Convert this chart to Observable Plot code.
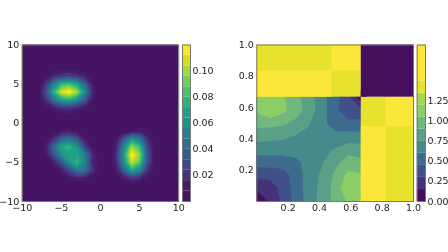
<!DOCTYPE html>
<html><head><meta charset="utf-8">
<script src="https://cdn.jsdelivr.net/npm/d3@7"></script>
<script src="https://cdn.jsdelivr.net/npm/@observablehq/plot@0.6"></script>
<style>
html,body{margin:0;background:#fff}
#c{position:relative;width:448px;height:252px;overflow:hidden;filter:blur(.35px)}
#c svg{position:absolute;left:0;top:0;background:transparent!important}
</style></head><body><div id="c"></div>
<script>
// Left panel: density read on a unit grid, rows y=10..-10, columns x=-10..10
const gridCols = 21, gridRows = 21;
const z = Array(21).fill(0);
const densityRows = [
 z,z,z,
 /*y=7*/ [0,0,0,0,.002,.003,.004,.003,.002,0,0,0,0,0,0,0,0,0,0,0,0],
 /*y=6*/ [0,0,0,.007,.017,.024,.026,.022,.013,.004,0,0,0,0,0,0,0,0,0,0,0],
 /*y=5*/ [0,0,.001,.021,.053,.077,.084,.07,.041,.011,0,0,0,0,0,0,0,0,0,0,0],
 /*y=4*/ [0,0,.002,.03,.076,.11,.12,.10,.058,.016,0,0,0,0,0,0,0,0,0,0,0],
 /*y=3*/ [0,0,.001,.019,.047,.068,.074,.062,.036,.01,0,0,0,0,0,0,0,0,0,0,0],
 /*y=2*/ [0,0,0,.005,.014,.02,.022,.018,.01,.003,0,0,0,0,0,0,0,0,0,0,0],
 /*y=1*/ [0,0,0,0,.001,.002,.003,.002,.001,0,0,0,0,0,0,0,0,0,0,0,0],
 /*y=0*/ z,
 /*y=-1*/[0,0,0,0,.002,.009,.012,.008,.001,0,0,0,0,.002,.007,.013,.010,.004,0,0,0],
 /*y=-2*/[0,0,0,.004,.02,.04,.046,.034,.01,.001,0,0,.010,.035,.064,.051,.018,.002,0,0,0],
 /*y=-3*/[0,0,0,.012,.042,.07,.077,.062,.028,.006,0,0,.015,.055,.10,.08,.028,.003,0,0,0],
 /*y=-4*/[0,0,0,.008,.033,.06,.07,.07,.052,.017,.001,0,.018,.066,.12,.096,.034,.004,0,0,0],
 /*y=-5*/[0,0,0,.002,.012,.033,.06,.077,.055,.014,.001,0,.016,.059,.107,.086,.03,.003,0,0,0],
 /*y=-6*/[0,0,0,0,.003,.012,.03,.05,.046,.02,.003,0,.011,.04,.072,.058,.02,.002,0,0,0],
 /*y=-7*/[0,0,0,0,0,.002,.008,.015,.012,.004,0,0,.003,.012,.022,.018,.006,0,0,0,0],
 z,z,z
];
const leftLevels = [0,.008,.016,.024,.032,.04,.048,.056,.064,.072,.08,.088,.096,.104,.112,.12];
const leftTicks = [-10,-5,0,5,10];
const leftBarTicks = [.02,.04,.06,.08,.1];

// Right panel blocks
const blockLowerLeft = [ // columns x=0..8/12, rows y=8/12..0
 [1.10,1.17,1.07,.94,.82,.65,.51,.33,.05],
 [1.07,1.205,1.09,.97,.84,.66,.50,.31,.33],
 [.95,.95,.93,.86,.76,.64,.53,.50,.51],
 [.81,.80,.78,.74,.72,.66,.64,.66,.65],
 [.67,.67,.67,.67,.68,.72,.76,.84,.82],
 [.51,.52,.52,.56,.67,.74,.86,.97,.94],
 [.33,.35,.38,.52,.67,.78,.93,1.09,1.07],
 [.18,.22,.35,.52,.67,.80,.95,1.205,1.17],
 [0,.18,.33,.51,.67,.81,.95,1.07,1.10]
];
const xa = 2/3;
const yellowRegions = [
 {x1:0,x2:xa,y1:xa,y2:1,v:1.42},
 {x1:xa,x2:1,y1:0,y2:xa,v:1.42},
 {x1:0,x2:.48,y1:xa,y2:.835,v:1.58},
 {x1:.48,x2:xa,y1:.835,y2:1,v:1.58},
 {x1:xa,x2:.825,y1:0,y2:.48,v:1.58},
 {x1:.825,x2:1,y1:.48,y2:xa,v:1.58},
 {x1:xa,x2:1,y1:xa,y2:1,v:.05}
];
const rightLevels = [0,.15,.3,.45,.6,.75,.9,1.05,1.2,1.35,1.5,1.95];
const rightColors = ["#450f5e","#47307c","#42508a","#3d6b8e","#468a8c","#5a9f86","#70b87c","#8ccd68","#a5d84f","#e7e32d","#fbe63a"];
const rightTicks = [.2,.4,.6,.8,1];
const rightBarTicks = [0,.25,.5,.75,1,1.25];

const leftColors = leftLevels.slice(0,-1).map((_, i) => d3.interpolateViridis(i/14));
leftColors[0] = "#451564";
const font = {fontFamily:"'DejaVu Sans'",fontSize:"9.5px",color:"#222",background:"transparent"};
const W = 448, H = 252, mTop = 44.5, mBottom = 51;
const base = (l, r) => ({width:W,height:H,marginTop:mTop,marginBottom:mBottom,marginLeft:l,marginRight:W-r,style:font});
const frame = () => Plot.frame({stroke:"#777",strokeWidth:1});
const axes = (ticks, fmt) => [
  Plot.axisX({ticks,tickFormat:fmt,tickSize:0,tickPadding:3,anchor:"bottom"}),
  Plot.axisY({ticks,tickFormat:fmt,tickSize:0,tickPadding:3,anchor:"left"})
];
const flat = rows => rows.flat();

const charts = [
 Plot.plot({...base(21.8,178.2),
  x:{domain:[-10,10]},y:{domain:[-10,10]},
  color:{type:"threshold",domain:leftLevels.slice(1,-1),range:leftColors},
  marks:[
   Plot.contour(flat(densityRows),{width:gridCols,height:gridRows,x1:-10.5,x2:10.5,y1:10.5,y2:-10.5,
     fill:Plot.identity,thresholds:leftLevels.slice(0,-1),clip:"frame"}),
   frame(),...axes(leftTicks,d3.format("d"))
  ]}),
 Plot.plot({...base(182,190),
  x:{domain:[0,1],axis:null},y:{domain:[0,.12]},
  color:{type:"threshold",domain:leftLevels.slice(1,-1),range:leftColors},
  marks:[
   Plot.rect(leftLevels.slice(0,-1),{x1:0,x2:1,y1:d=>d,y2:(d,i)=>leftLevels[i+1],fill:d=>d+1e-6}),
   frame(),
   Plot.axisY({ticks:leftBarTicks,tickFormat:d3.format(".2f"),tickSize:0,tickPadding:2,anchor:"right"})
  ]}),
 Plot.plot({...base(256.3,413),
  x:{domain:[0,1]},y:{domain:[0,1]},
  color:{type:"threshold",domain:rightLevels.slice(1,-1),range:rightColors},
  marks:[
   Plot.contour(flat(blockLowerLeft),{width:9,height:9,x1:-1/24,x2:xa+1/24,y1:xa+1/24,y2:-1/24,
     fill:Plot.identity,thresholds:rightLevels.slice(0,-1),clip:"frame"}),
   Plot.rect(yellowRegions,{x1:"x1",x2:"x2",y1:"y1",y2:"y2",fill:"v"}),
   frame(),...axes(rightTicks,d3.format(".1f"))
  ]}),
 Plot.plot({...base(416.7,425),
  x:{domain:[0,1],axis:null},y:{domain:[0,1.95]},
  color:{type:"threshold",domain:rightLevels.slice(1,-1),range:rightColors},
  marks:[
   Plot.rect(rightLevels.slice(0,-1),{x1:0,x2:1,y1:d=>d,y2:(d,i)=>rightLevels[i+1],fill:d=>d+1e-6}),
   frame(),
   Plot.axisY({ticks:rightBarTicks,tickFormat:d3.format(".2f"),tickSize:0,tickPadding:2,anchor:"right"})
  ]})
];
charts.forEach(c=>document.getElementById("c").append(c));
</script></body></html>
